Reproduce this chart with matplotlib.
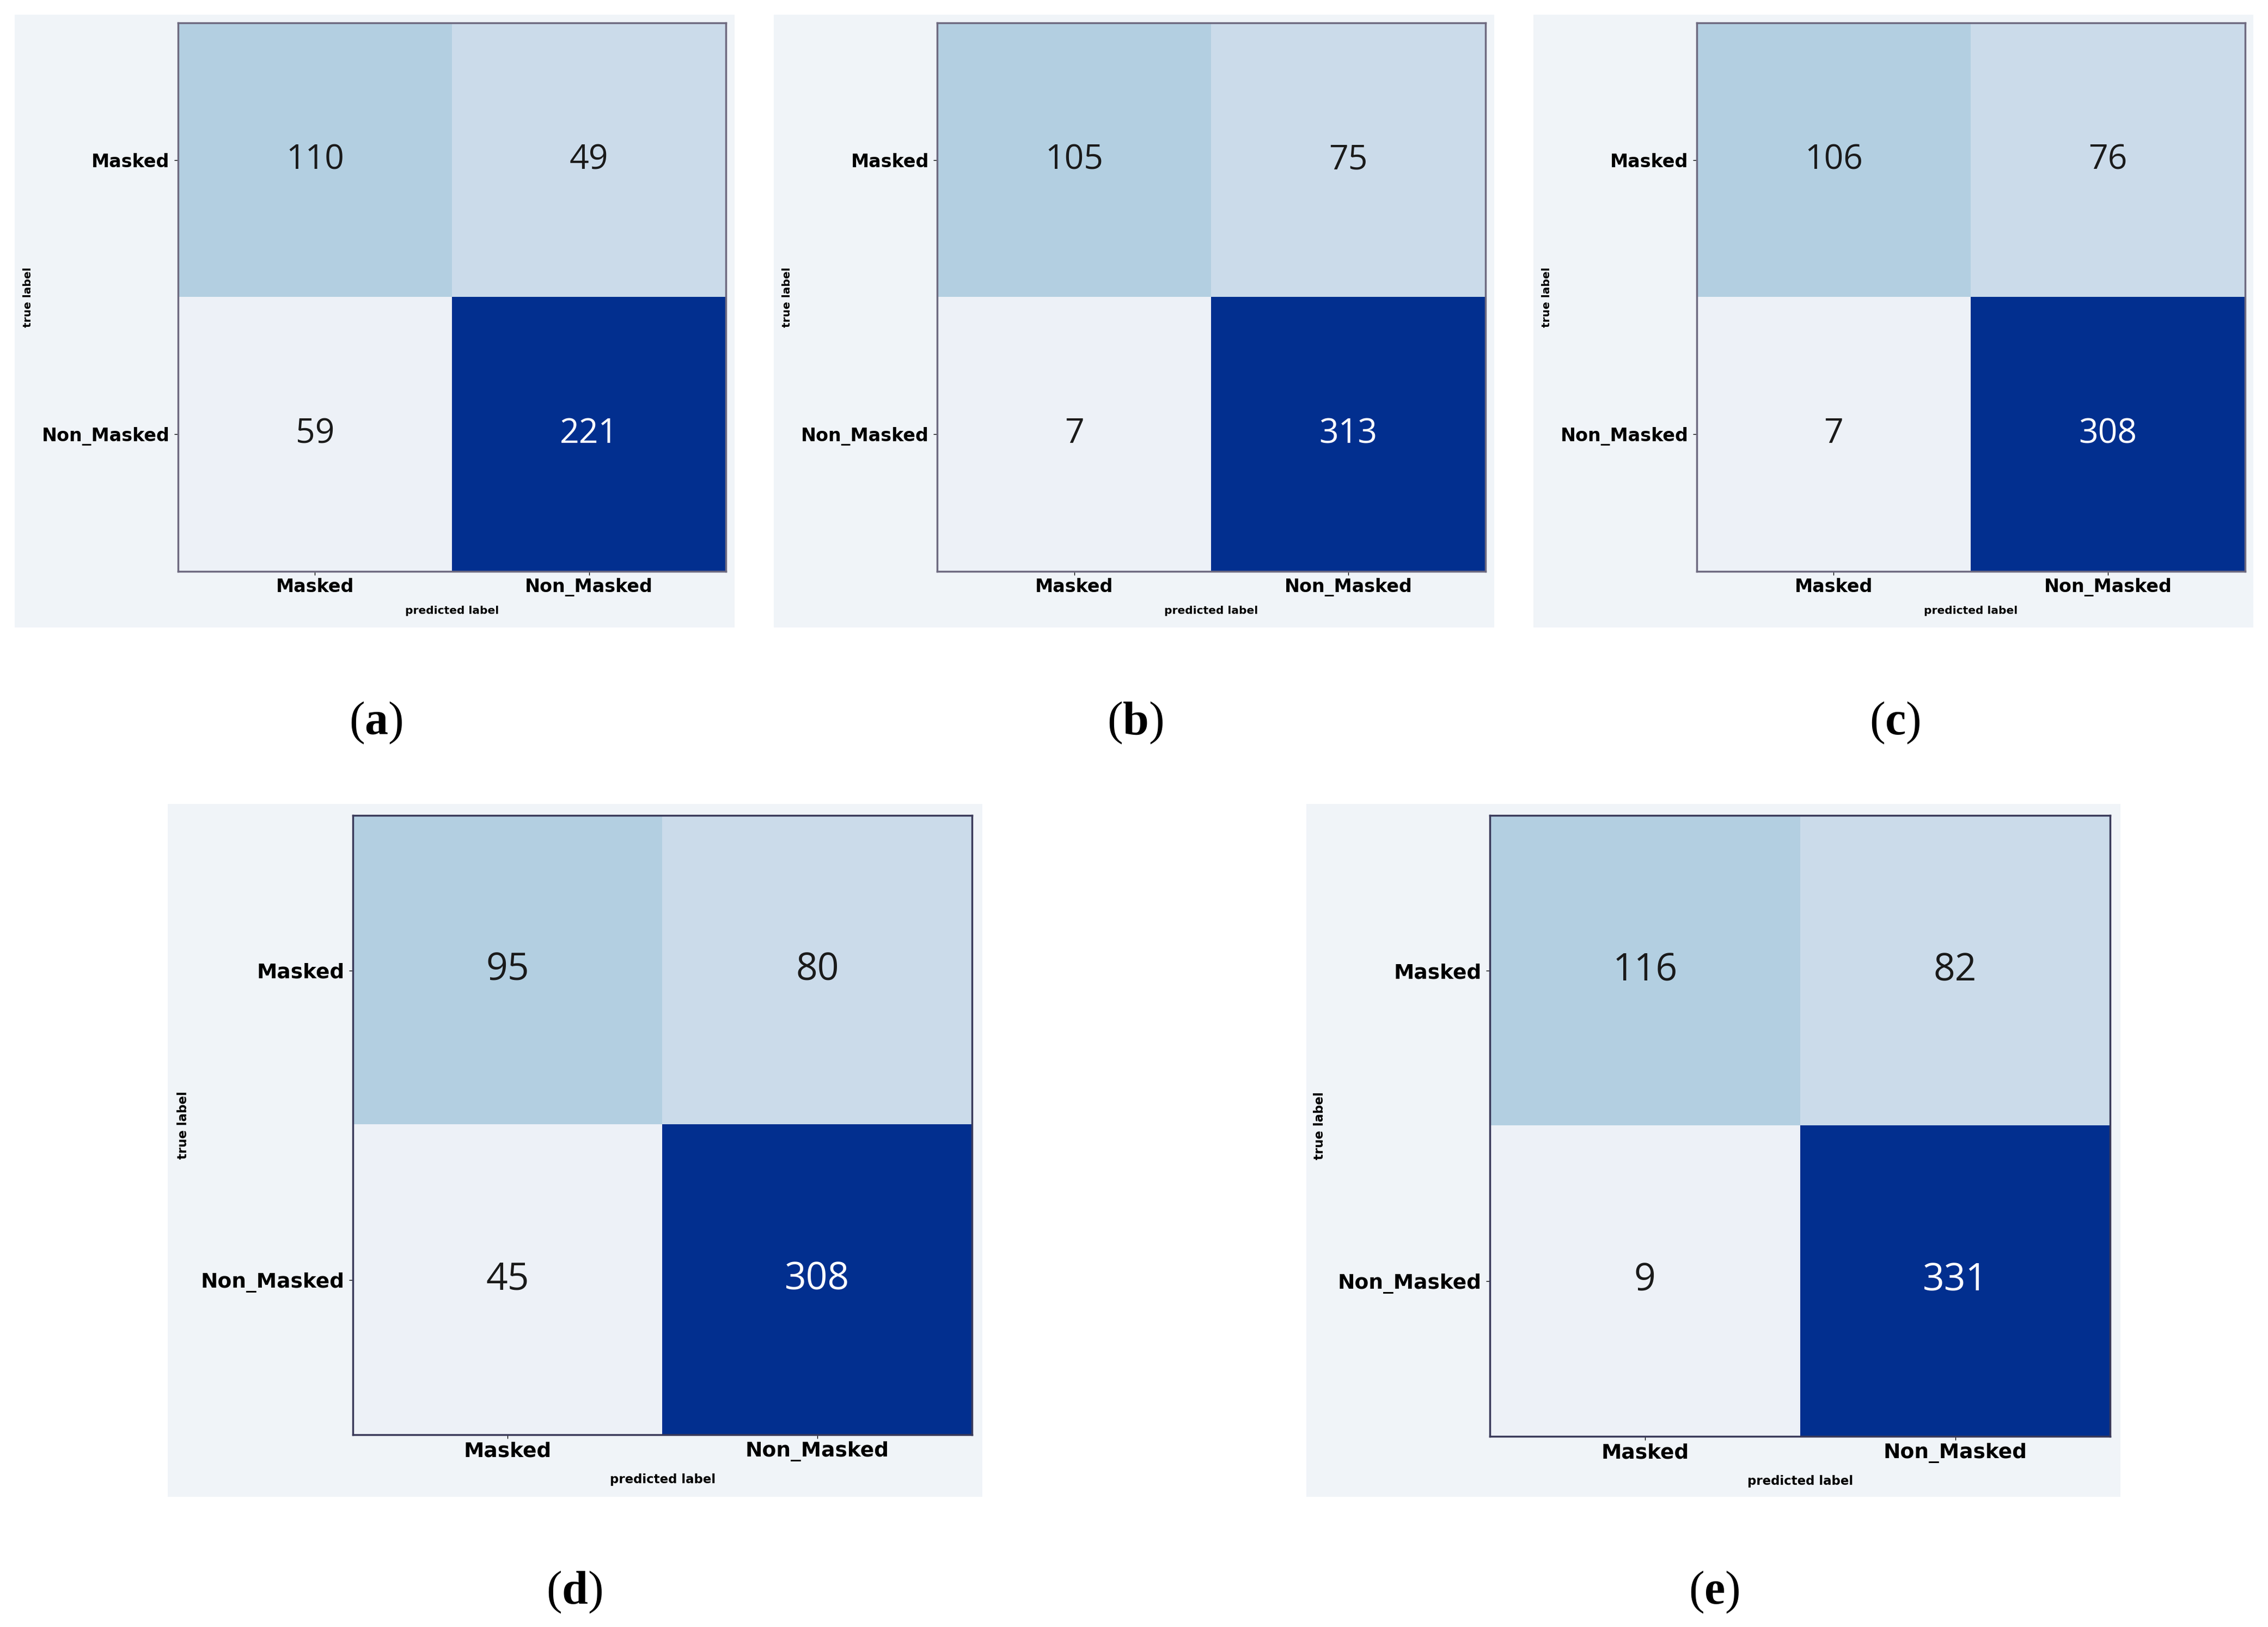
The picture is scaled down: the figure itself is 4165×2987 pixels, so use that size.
import numpy as np
import matplotlib
matplotlib.use('Agg')
import matplotlib.pyplot as plt
from matplotlib.colors import to_rgb
from matplotlib.patches import Rectangle

# ---------------- data ----------------
class_names = ['Masked', 'Non_Masked']
panel_tags = ['a', 'b', 'c', 'd', 'e']
cm_a = [[110, 49], [59, 221]]
cm_b = [[105, 75], [7, 313]]
cm_c = [[106, 76], [7, 308]]
cm_d = [[95, 80], [45, 308]]
cm_e = [[116, 82], [9, 331]]
matrices = [cm_a, cm_b, cm_c, cm_d, cm_e]

# ---------------- style ----------------
cell_colors = [['#b3cfe1', '#cbdbea'], ['#edf1f7', '#022f8f']]
text_colors = [['#1a1a1a', '#1a1a1a'], ['#1a1a1a', '#ffffff']]
bg_color = '#f0f4f8'

plt.rcParams['mathtext.fontset'] = 'custom'
plt.rcParams['mathtext.rm'] = 'Liberation Serif'
plt.rcParams['mathtext.bf'] = 'Liberation Serif:bold'

W, H = 1568.0, 1125.0  # layout reference grid


def fx(x):
    return x / W


def fy(y):
    return 1 - y / H


layouts = [
    dict(bg=(10, 10, 508, 434), ax=(123, 16, 502, 395), lab=(260, 500),
         tick=24, num=45, axl=14.5, frame='#6e6a80'),
    dict(bg=(535, 10, 1033, 434), ax=(648, 16, 1027, 395), lab=(785, 500),
         tick=24, num=45, axl=14.5, frame='#6e6a80'),
    dict(bg=(1060, 10, 1558, 434), ax=(1173, 16, 1552, 395), lab=(1310, 500),
         tick=24, num=45, axl=14.5, frame='#6e6a80'),
    dict(bg=(116, 556, 679, 1035), ax=(244, 564, 672, 992), lab=(397, 1101),
         tick=27, num=50, axl=16.5, frame='#3a3a5a'),
    dict(bg=(903, 556, 1466, 1035), ax=(1030, 564, 1459, 993), lab=(1185, 1101),
         tick=27, num=50, axl=16.5, frame='#3a3a5a'),
]

fig = plt.figure(figsize=(41.65, 29.87), dpi=100)
fig.patch.set_facecolor('white')

for cm, tag, L in zip(matrices, panel_tags, layouts):
    bx0, by0, bx1, by1 = L['bg']
    fig.patches.append(Rectangle((fx(bx0), fy(by1)), fx(bx1) - fx(bx0), fy(by0) - fy(by1),
                                 transform=fig.transFigure, facecolor=bg_color,
                                 edgecolor='none', zorder=-5))
    ax0, ay0, ax1, ay1 = L['ax']
    ax = fig.add_axes([fx(ax0), fy(ay1), fx(ax1) - fx(ax0), fy(ay0) - fy(ay1)])
    ax.set_zorder(2)
    rgb = np.array([[to_rgb(c) for c in row] for row in cell_colors])
    ax.imshow(rgb, aspect='auto', interpolation='nearest')
    vals = np.array(cm)
    for i in range(vals.shape[0]):
        for j in range(vals.shape[1]):
            ax.text(j, i, str(vals[i, j]), ha='center', va='center',
                    fontsize=L['num'], family='Open Sans',
                    color=text_colors[i][j])
    ax.set_xticks(range(len(class_names)))
    ax.set_yticks(range(len(class_names)))
    ax.set_xticklabels(class_names, fontsize=L['tick'], fontweight='bold',
                       family='DejaVu Sans')
    ax.set_yticklabels(class_names, fontsize=L['tick'], fontweight='bold',
                       family='DejaVu Sans')
    ax.tick_params(axis='x', length=5, width=1, pad=4)
    ax.tick_params(axis='y', length=5, width=1, pad=6)
    ax.set_xlabel('predicted label', fontsize=L['axl'], fontweight='bold',
                  family='DejaVu Sans')
    ax.set_ylabel('true label', fontsize=L['axl'], fontweight='bold',
                  family='DejaVu Sans')
    ax.xaxis.set_label_coords(0.5, -0.063)
    ax.yaxis.set_label_coords(-0.264, 0.5)
    for s in ax.spines.values():
        s.set_color(L['frame'])
        s.set_linewidth(2.5)
    lx, ly = L['lab']
    fig.text(fx(lx), fy(ly), r'($\mathbf{' + tag + r'}$)', ha='center',
             va='center', fontsize=62, family='Liberation Serif')

fig.savefig('out.png', dpi=100, facecolor='white')
